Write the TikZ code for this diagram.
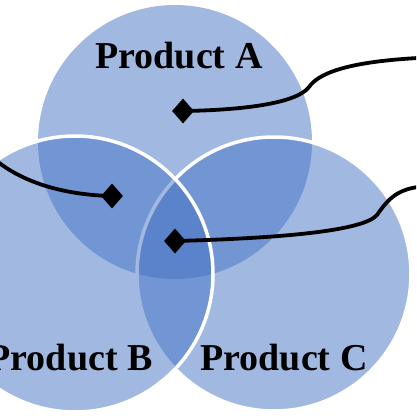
\documentclass[tikz,border=0pt]{standalone}
\usepackage{fontspec}
\setmainfont{Liberation Serif}
\usetikzlibrary{shapes.geometric}
\definecolor{vennblue}{HTML}{4472C4}

\begin{document}
\begin{tikzpicture}[
            x=1pt, y=-1pt,
            set/.style={fill=vennblue, fill opacity=0.5},
            rim/.style={set, draw=white, draw opacity=1, line width=3.5pt},
            label/.style={font=\fontsize{38}{40}\selectfont\bfseries, anchor=base, inner sep=0pt},
            marker/.style={diamond, fill=black, minimum width=22pt, minimum height=25pt, inner sep=0pt},
            lead/.style={line width=3.8pt, line cap=round}
        ]
            \useasboundingbox (0,0) rectangle (416,416);
            \clip (0,0) rectangle (416,416);

            % circles
            \path[set] (175,142) circle[radius=137pt];
            \path[rim] (274,274) circle[radius=137pt];
            \path[rim] (75,274) circle[radius=138pt];

            % labels
            \node[label] (lA) at (179,68) {Product A};
            \node[label] (lB) at (70,370) {Product B};
            \node[label] (lC) at (284,370) {Product C};

            % markers
            \node[marker] (dA) at (183,111) {};
            \node[marker] (dAB) at (112,196) {};
            \node[marker] (dABC) at (175,241) {};

            \coordinate (eA) at (418,58);
            \coordinate (eB) at (-2,162);
            \coordinate (eC) at (418,187);

            \draw[lead] (dA.center) .. controls (250,110) and (298,102) .. (309,87)
                .. controls (318,74) and (345,62) .. (eA);
            \draw[lead] (dAB.center) .. controls (65,195) and (25,183) .. (eB);
            \draw[lead] (dABC.center) .. controls (290,238) and (364,230) .. (377,215)
                .. controls (386,202) and (395,190) .. (eC);
        \end{tikzpicture}
\end{document}
